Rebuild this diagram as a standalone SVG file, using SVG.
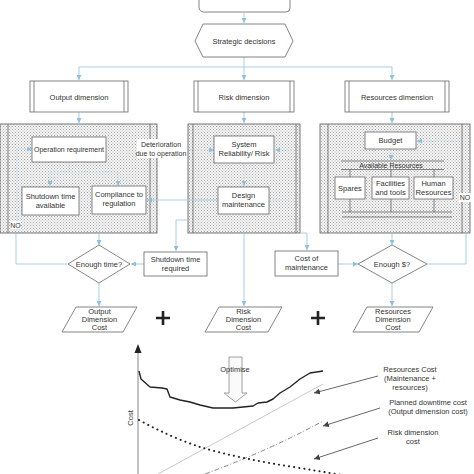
<svg xmlns="http://www.w3.org/2000/svg" width="474" height="474" viewBox="0 0 474 474">
<style>
text{font-family:"Liberation Sans",Arial,sans-serif;fill:#333;font-size:7.5px;text-anchor:middle}
.box{fill:#fff;stroke:#666;stroke-width:0.8}
.panel{fill:url(#dots);stroke:#555;stroke-width:0.8}
.ln{fill:none;stroke:#555;stroke-width:0.7}
.flow{fill:none;stroke:#9ccae3;stroke-width:0.9}
.fa{fill:none;stroke:#9ccae3;stroke-width:0.9;marker-end:url(#ah)}
.faint{fill:none;stroke:#b5d6e8;stroke-width:0.7;stroke-dasharray:2 1.5}
.fainta{fill:none;stroke:#b5d6e8;stroke-width:0.7;stroke-dasharray:2 1.5;marker-end:url(#ah)}
.small{font-size:7px}
.ga{fill:none;stroke:#555;stroke-width:0.9;marker-end:url(#gh)}
.bg{fill:#fff;stroke:none}
</style>
<defs>
<pattern id="dots" width="3" height="3" patternUnits="userSpaceOnUse">
<rect width="3" height="3" fill="#f7f7f7"/>
<rect x="0" y="0" width="1" height="1" fill="#a3a3a3"/>
<rect x="1.5" y="1.5" width="1" height="1" fill="#a3a3a3"/>
</pattern>
<marker id="ah" viewBox="0 0 6 6" refX="6" refY="3" markerWidth="5" markerHeight="5" markerUnits="userSpaceOnUse" orient="auto">
<path d="M0,0 L6,3 L0,6 z" fill="#8ebfdb"/>
</marker>
<marker id="gh" viewBox="0 0 6 6" refX="6" refY="3" markerWidth="6" markerHeight="6" markerUnits="userSpaceOnUse" orient="auto">
<path d="M0,0 L6,3 L0,6 z" fill="#444"/>
</marker>
</defs>

<!-- panels -->
<g id="panel-output">
<rect class="panel" x="0" y="124" width="157" height="109"/>
<line class="ln" x1="8" y1="124" x2="8" y2="233"/>
<line class="ln" x1="150" y1="124" x2="150" y2="233"/>
</g>
<g id="panel-risk">
<rect class="panel" x="188" y="124" width="112" height="109"/>
<line class="ln" x1="193" y1="124" x2="193" y2="233"/>
<line class="ln" x1="296" y1="124" x2="296" y2="233"/>
</g>
<g id="panel-resources">
<rect class="panel" x="320" y="124" width="150" height="109"/>
<line class="ln" x1="328" y1="124" x2="328" y2="233"/>
<line class="ln" x1="462" y1="124" x2="462" y2="233"/>
</g>

<!-- connectors -->
<g id="connectors">
<line class="fa" x1="244" y1="13" x2="244" y2="23"/>
<path class="flow" d="M244,57 V67 M79,67 H392"/>
<line class="fa" x1="79" y1="67" x2="79" y2="80"/>
<line class="fa" x1="244" y1="67" x2="244" y2="80"/>
<line class="fa" x1="392" y1="67" x2="392" y2="80"/>
<line class="fa" x1="79" y1="112" x2="79" y2="123"/>
<line class="fa" x1="244" y1="112" x2="244" y2="123"/>
<line class="fa" x1="392" y1="112" x2="392" y2="123"/>
<path class="faint" d="M69,162 V172 M50,172 H118"/>
<line class="fainta" x1="50" y1="172" x2="50" y2="186"/>
<line class="fainta" x1="118" y1="172" x2="118" y2="186"/>
<line class="fainta" x1="17" y1="149" x2="32" y2="149"/>
<line class="faint" x1="17" y1="149" x2="17" y2="221"/>
<path class="flow" d="M16,233 V264 H68"/>
<line class="fa" x1="99" y1="233" x2="99" y2="245"/>
<line class="fa" x1="144" y1="264" x2="131" y2="264"/>
<line class="fa" x1="99" y1="283" x2="99" y2="306"/>
<line class="fainta" x1="190" y1="150" x2="214" y2="150"/>
<line class="fainta" x1="292" y1="150" x2="275" y2="150"/>
<line class="fainta" x1="244" y1="163" x2="244" y2="186"/>
<line class="flow" x1="218" y1="200" x2="188" y2="200"/>
<line class="fa" x1="188" y1="200" x2="147" y2="200"/>
<line class="faint" x1="269" y1="200" x2="290" y2="200"/>
<path class="fa" d="M188,220 H176 V251"/>
<line class="fa" x1="244" y1="233" x2="244" y2="306"/>
<path class="fa" d="M300,233 H307 V250"/>
<line class="fainta" x1="391" y1="149" x2="391" y2="160"/>
<line class="fainta" x1="460" y1="141" x2="417" y2="141"/>
<path class="flow" d="M427,264 H466 V233"/>
<line class="fa" x1="392" y1="233" x2="392" y2="245"/>
<line class="fa" x1="338" y1="264" x2="358" y2="264"/>
<line class="fa" x1="392" y1="283" x2="392" y2="306"/>
</g>

<!-- top nodes -->
<g id="start-doc">
<path class="box" d="M199,-2 V8 Q200,13 207,12 H286 Q290,12 290,8 V-2 Z"/>
</g>
<g id="strategic-decisions">
<polygon class="box" points="195,41 203,24 285,24 293,41 285,57 203,57"/>
<text x="244" y="44">Strategic decisions</text>
</g>
<g id="output-dimension">
<rect class="box" x="30" y="81" width="98" height="31"/>
<line class="ln" x1="34" y1="81" x2="34" y2="112"/>
<line class="ln" x1="124" y1="81" x2="124" y2="112"/>
<text x="79" y="100">Output dimension</text>
</g>
<g id="risk-dimension">
<rect class="box" x="194" y="81" width="100" height="31"/>
<line class="ln" x1="198" y1="81" x2="198" y2="112"/>
<line class="ln" x1="290" y1="81" x2="290" y2="112"/>
<text x="244" y="100">Risk dimension</text>
</g>
<g id="resources-dimension">
<rect class="box" x="345" y="81" width="104" height="31"/>
<line class="ln" x1="349" y1="81" x2="349" y2="112"/>
<line class="ln" x1="445" y1="81" x2="445" y2="112"/>
<text x="397" y="100">Resources dimension</text>
</g>

<!-- output panel nodes -->
<g id="operation-requirement">
<rect class="box" x="32" y="137" width="74" height="25"/>
<text class="small" x="69" y="152">Operation requirement</text>
</g>
<g id="shutdown-available">
<rect class="box" x="22" y="187" width="57" height="28"/>
<text x="50.5" y="199">Shutdown time</text>
<text x="50.5" y="208">available</text>
</g>
<g id="compliance">
<rect class="box" x="92" y="186" width="54" height="28"/>
<text x="119" y="197">Compliance to</text>
<text x="119" y="206">regulation</text>
</g>
<g id="deterioration-label">
<rect class="bg" x="137" y="139" width="48" height="19"/>
<text class="small" x="161" y="147">Deterioration</text>
<text class="small" x="161" y="156">due to operation</text>
</g>
<rect class="bg" x="10" y="221" width="11" height="8"/>
<text class="small" x="15.5" y="227.5">NO</text>

<!-- risk panel nodes -->
<g id="system-reliability">
<rect class="box" x="214" y="136" width="60" height="27"/>
<text x="244" y="147">System</text>
<text x="244" y="156">Reliability/ Risk</text>
</g>
<g id="design-maintenance">
<rect class="box" x="218" y="187" width="51" height="27"/>
<text x="243.5" y="198">Design</text>
<text x="243.5" y="207">maintenance</text>
</g>

<!-- resources panel nodes -->
<g id="budget">
<rect class="box" x="365" y="132" width="51" height="17"/>
<text x="390.5" y="143">Budget</text>
</g>
<g id="available-resources">
<line class="ln" x1="341" y1="161" x2="444" y2="161"/>
<line class="ln" x1="341" y1="169.5" x2="444" y2="169.5"/>
<text class="small" x="391" y="168">Available Resources</text>
<line class="ln" x1="350" y1="169.5" x2="350" y2="212"/>
<line class="ln" x1="391" y1="169.5" x2="391" y2="212"/>
<line class="ln" x1="434" y1="169.5" x2="434" y2="212"/>
<line class="ln" x1="342" y1="212" x2="452" y2="212"/>
<line class="ln" x1="342" y1="217" x2="452" y2="217"/>
</g>
<g id="spares">
<rect class="box" x="335" y="177" width="30" height="22"/>
<text x="350" y="190.5">Spares</text>
</g>
<g id="facilities">
<rect class="box" x="372" y="177" width="37" height="22"/>
<text x="390.5" y="186">Facilities</text>
<text x="390.5" y="195">and tools</text>
</g>
<g id="human-resources">
<rect class="box" x="414" y="177" width="39" height="22"/>
<text x="433.5" y="186">Human</text>
<text x="433.5" y="195">Resources</text>
</g>
<rect class="bg" x="459" y="193" width="12" height="9"/>
<text class="small" x="465" y="200">NO</text>

<!-- decision row -->
<g id="enough-time">
<polygon class="box" points="68,264 99,245 130,264 99,283"/>
<text x="99" y="267">Enough time?</text>
</g>
<g id="shutdown-required">
<rect class="box" x="144" y="252" width="63" height="24"/>
<text x="175.5" y="262">Shutdown time</text>
<text x="175.5" y="271">required</text>
</g>
<g id="cost-maintenance">
<rect class="box" x="275" y="251" width="63" height="25"/>
<text x="306.5" y="261">Cost of</text>
<text x="306.5" y="270">maintenance</text>
</g>
<g id="enough-money">
<polygon class="box" points="358,264 392,245 427,264 392,283"/>
<text x="392" y="267">Enough $?</text>
</g>

<!-- cost outputs -->
<g id="output-cost">
<polygon class="box" points="76,307 137,307 123,332 62,332"/>
<text x="99.5" y="314">Output</text>
<text x="99.5" y="322">Dimension</text>
<text x="99.5" y="330">Cost</text>
</g>
<g id="plus-1">
<path d="M156,318 H170 M163,311 V325" stroke="#222" stroke-width="2.6" fill="none"/>
</g>
<g id="risk-cost">
<polygon class="box" points="219,307 282,307 268,332 205,332"/>
<text x="243.5" y="314">Risk</text>
<text x="243.5" y="322">Dimension</text>
<text x="243.5" y="330">Cost</text>
</g>
<g id="plus-2">
<path d="M311,318 H325 M318,311 V325" stroke="#222" stroke-width="2.6" fill="none"/>
</g>
<g id="resources-cost">
<polygon class="box" points="367,307 433,307 419,332 353,332"/>
<text x="393" y="314">Resources</text>
<text x="393" y="322">Dimension</text>
<text x="393" y="330">Cost</text>
</g>

<!-- chart -->
<g id="chart">
<line x1="138" y1="474" x2="138" y2="352" stroke="#888" stroke-width="1"/>
<path d="M134.5,353 L138,344 L141.5,353 Z" fill="#222"/>
<text transform="translate(133,418) rotate(-90)">Cost</text>
<path d="M229,357 H242 V393 H247 L235.5,402 L224,393 H229 Z" fill="#fafafa" stroke="#888" stroke-width="0.8"/>
<text x="235" y="372">Optimise</text>
<path d="M139,371 L141,379 L150,387 L162,388 L167,389 L170,397 L180,400 L190,402 L200,405 L213,408 L233,408 L253,406 L258,403 L267,402 L273,399 L280,393 L290,387 L300,379 L310,373 L323,371" fill="none" stroke="#222" stroke-width="1.4" stroke-linejoin="round"/>
<line x1="158" y1="474" x2="323" y2="384" stroke="#c8c8c8" stroke-width="1"/>
<path d="M205,474 Q270,450 323,421" fill="none" stroke="#666" stroke-width="0.8" stroke-dasharray="5 2 1 2"/>
<path d="M139,420 Q170,437 200,447 Q240,459 300,468 L342,475" fill="none" stroke="#222" stroke-width="2" stroke-dasharray="0.1 5" stroke-linecap="round"/>
<line class="ga" x1="378" y1="376" x2="314" y2="393"/>
<line class="ga" x1="380" y1="408" x2="323" y2="426"/>
<line class="ga" x1="378" y1="438" x2="314" y2="459"/>
<text x="410" y="372">Resources Cost</text>
<text x="410" y="381">(Maintenance +</text>
<text x="410" y="390">resources)</text>
<text x="428" y="405">Planned downtime cost</text>
<text x="428" y="414">(Output dimension cost)</text>
<text x="413" y="435">Risk dimension</text>
<text x="413" y="444">cost</text>
</g>
</svg>
